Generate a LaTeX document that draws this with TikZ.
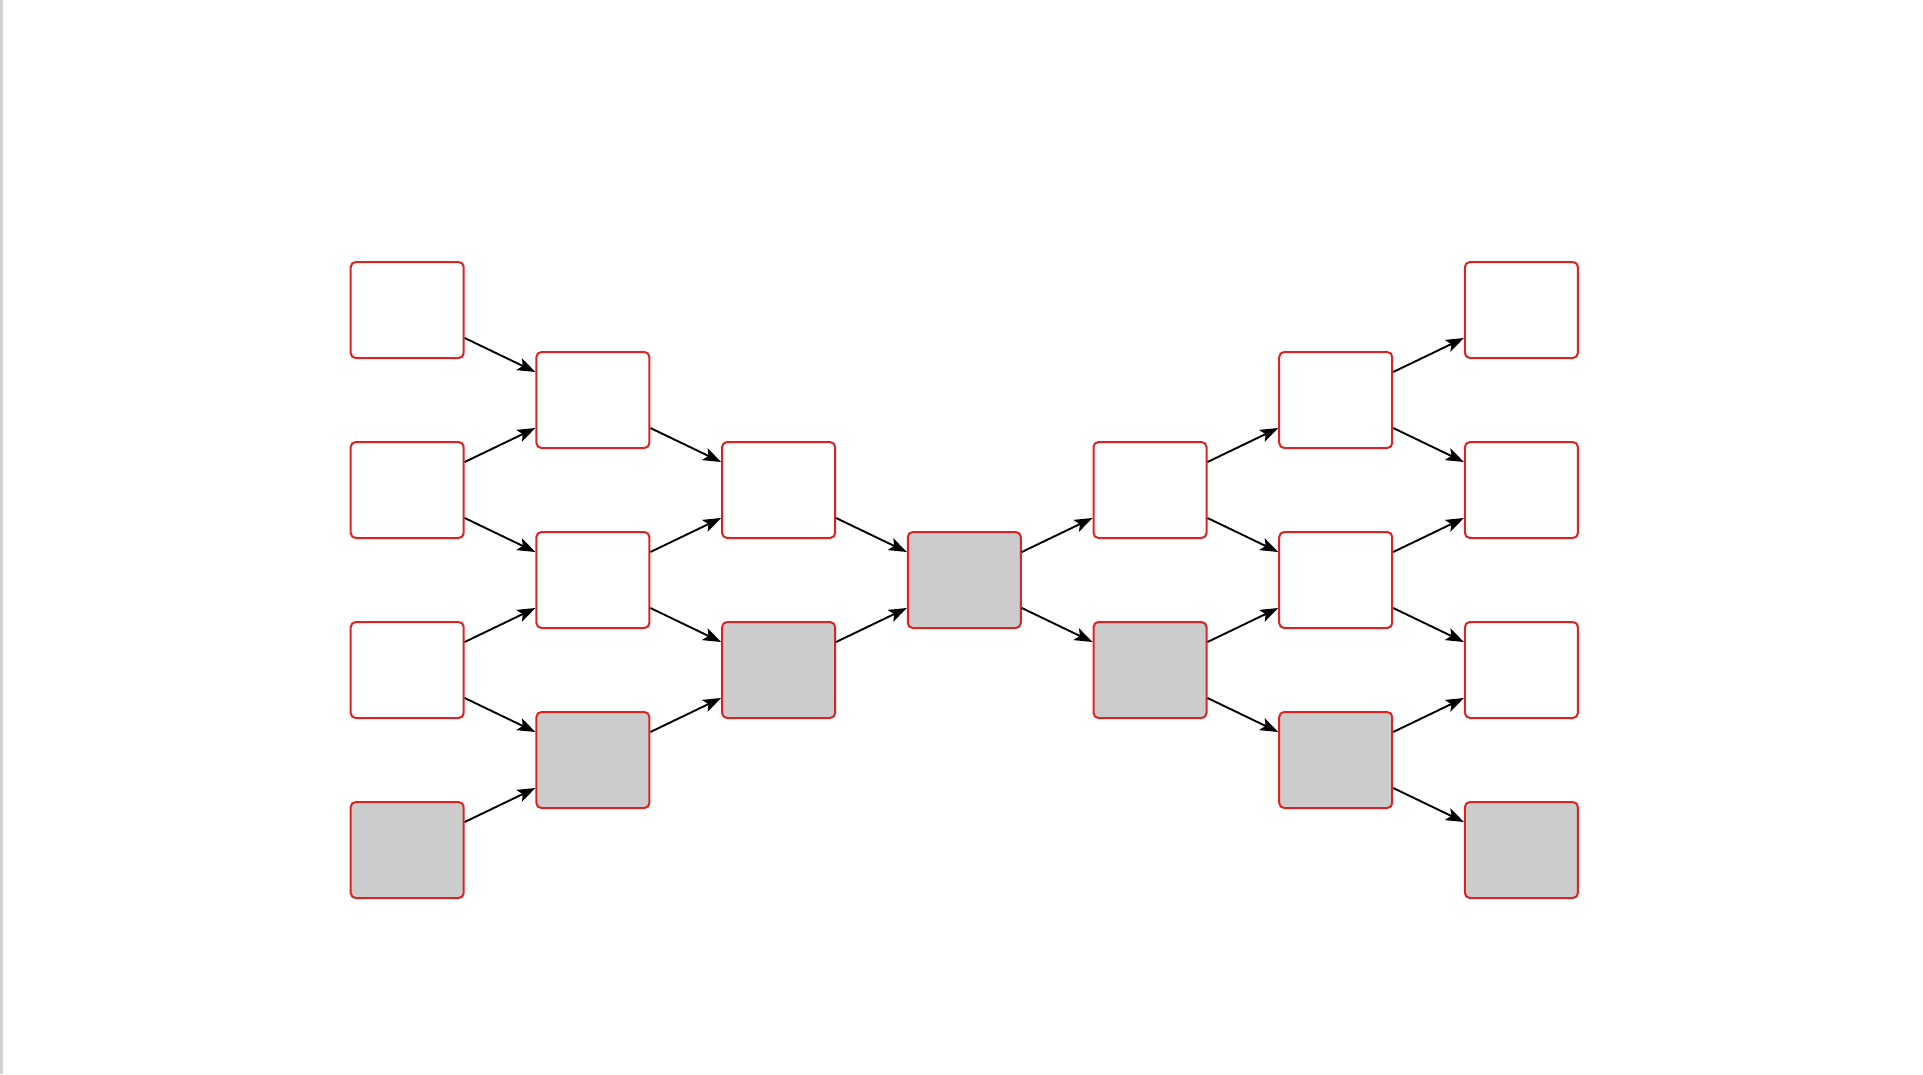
\documentclass[tikz,border=0pt]{standalone}
\usetikzlibrary{arrows.meta}
\definecolor{boxred}{HTML}{DD2222}
\definecolor{boxgray}{HTML}{CCCCCC}
\definecolor{edgegray}{HTML}{D0D0D0}
\tikzset{
  cell/.style={draw=boxred, line width=2pt, rounded corners=5pt, fill=white,
    minimum width=113pt, minimum height=96pt, inner sep=0pt},
  graycell/.style={cell, fill=boxgray},
  arr/.style={line width=1.9pt, -{Stealth[length=18pt,width=13pt,inset=4pt]}, shorten >=0pt}
}
\newcommand\dnedge[2]{\draw[arr] ([yshift=-28pt]#1.east) -- ([yshift=28pt]#2.west);}
\newcommand\upedge[2]{\draw[arr] ([yshift=28pt]#1.east) -- ([yshift=-28pt]#2.west);}
\begin{document}
\begin{tikzpicture}[x=1pt,y=-1pt]
\useasboundingbox (0,0) rectangle (1923,1074);
\fill[edgegray] (0,0) rectangle (3,1074);
% column 0
\node[cell] (a0) at (407.2,310) {};
\node[cell] (a2) at (407.2,490) {};
\node[cell] (a4) at (407.2,670) {};
\node[graycell] (a6) at (407.2,850) {};
% column 1
\node[cell] (b1) at (592.9,400) {};
\node[cell] (b3) at (592.9,580) {};
\node[graycell] (b5) at (592.9,760) {};
% column 2
\node[cell] (c2) at (778.6,490) {};
\node[graycell] (c4) at (778.6,670) {};
% column 3
\node[graycell] (d3) at (964.3,580) {};
% column 4
\node[cell] (e2) at (1150,490) {};
\node[graycell] (e4) at (1150,670) {};
% column 5
\node[cell] (f1) at (1335.7,400) {};
\node[cell] (f3) at (1335.7,580) {};
\node[graycell] (f5) at (1335.7,760) {};
% column 6
\node[cell] (g0) at (1521.4,310) {};
\node[cell] (g2) at (1521.4,490) {};
\node[cell] (g4) at (1521.4,670) {};
\node[graycell] (g6) at (1521.4,850) {};
% left half edges
\dnedge{a0}{b1}
\upedge{a2}{b1}
\dnedge{a2}{b3}
\upedge{a4}{b3}
\dnedge{a4}{b5}
\upedge{a6}{b5}
\dnedge{b1}{c2}
\upedge{b3}{c2}
\dnedge{b3}{c4}
\upedge{b5}{c4}
\dnedge{c2}{d3}
\upedge{c4}{d3}
% right half edges
\upedge{d3}{e2}
\dnedge{d3}{e4}
\upedge{e2}{f1}
\dnedge{e2}{f3}
\upedge{e4}{f3}
\dnedge{e4}{f5}
\upedge{f1}{g0}
\dnedge{f1}{g2}
\upedge{f3}{g2}
\dnedge{f3}{g4}
\upedge{f5}{g4}
\dnedge{f5}{g6}
\end{tikzpicture}
\end{document}
